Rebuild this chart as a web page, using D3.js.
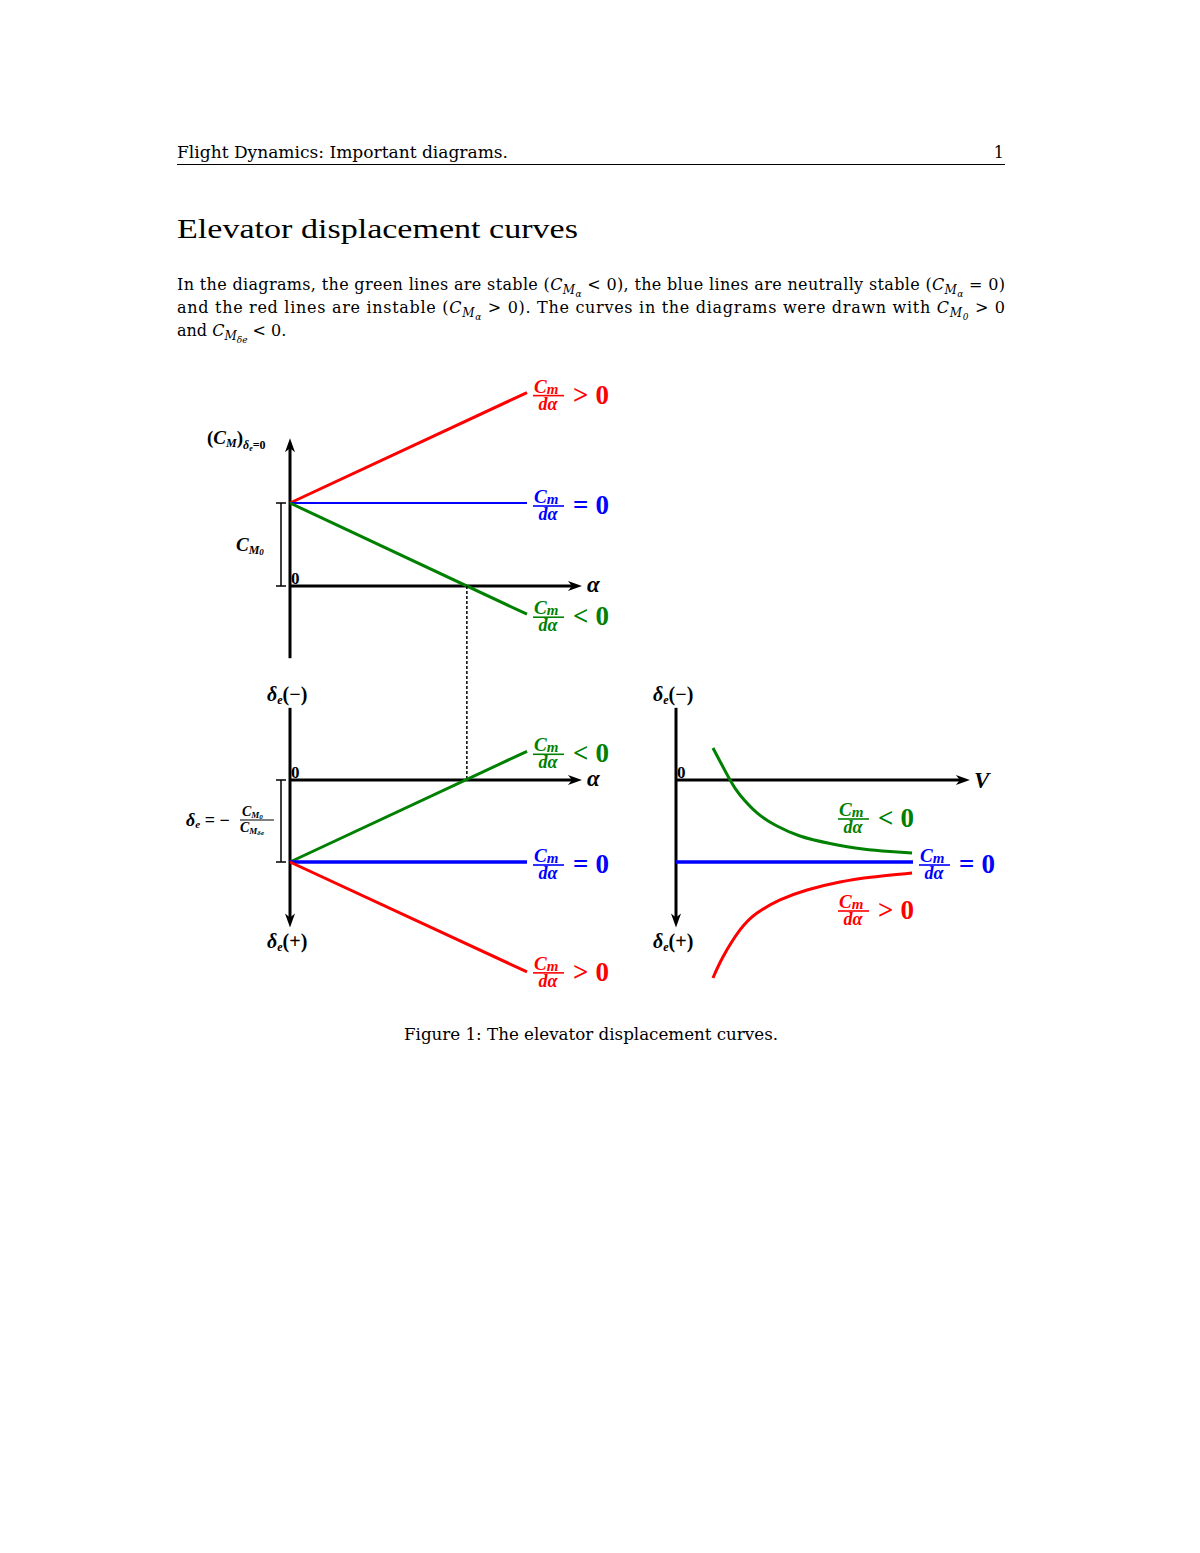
<!DOCTYPE html>
<html>
<head>
<meta charset="utf-8">
<script src="https://cdnjs.cloudflare.com/ajax/libs/d3/7.8.5/d3.min.js"></script>
<style>
  body { margin: 0; background: #fff; }
  svg text { font-family: "DejaVu Serif", serif; }
  .m { font-family: "Liberation Serif", serif; font-weight: bold; font-style: italic; }
  .mr { font-family: "Liberation Serif", serif; font-weight: bold; }
</style>
</head>
<body>
<script>
// ---- data ----
var alpha = [0, 1];
var cmStable = [1, -0.34], cmNeutral = [1, 1], cmUnstable = [1, 2.33];
var deStable = [1, -0.35], deNeutral = [1, 1], deUnstable = [1, 2.34];

var vNeutral = [0, 1], deVNeutral = [1, 1];
var vStable = [0.156, 0.228, 0.27, 0.342, 0.426, 0.523, 0.65, 0.789, 0.903, 0.996];
var deVStable = [-0.39, 0, 0.183, 0.402, 0.561, 0.683, 0.774, 0.841, 0.872, 0.89];
var vUnstable = [0.156, 0.198, 0.27, 0.342, 0.439, 0.553, 0.692, 0.831, 0.996];
var deVUnstable = [2.415, 2.159, 1.829, 1.622, 1.463, 1.341, 1.244, 1.183, 1.134];

var RED = "#ff0000", BLUE = "#0000ff", GREEN = "#008000";

var width = 1200, height = 1553;
var svg = d3.select("body").append("svg")
  .attr("width", width)
  .attr("height", height);

// ---- page text ----
svg.append("text").attr("x", 177).attr("y", 158)
  .attr("font-size", 16).attr("textLength", 331).attr("lengthAdjust", "spacingAndGlyphs")
  .text("Flight Dynamics: Important diagrams.");
svg.append("text").attr("x", 1004).attr("y", 158).attr("text-anchor", "end")
  .attr("font-size", 16).text("1");
svg.append("line").attr("x1", 177).attr("x2", 1005).attr("y1", 164.5).attr("y2", 164.5)
  .attr("stroke", "#000").attr("stroke-width", 1.2);

svg.append("text").attr("x", 177).attr("y", 238)
  .style("font-family", '"Liberation Serif", serif')
  .attr("font-size", 27).attr("textLength", 401).attr("lengthAdjust", "spacingAndGlyphs")
  .text("Elevator displacement curves");

// rich text line: parts of [text, kind]; r=roman, i=italic, s=subscript, ss=subsub
function rich(x, y, parts, len) {
  var shift = { r: 0, i: 0, s: 4, ss: 7 }, size = { r: 16, i: 16, s: 12, ss: 9 };
  var t = svg.append("text").attr("x", x).attr("y", y);
  if (len) t.attr("textLength", len).attr("lengthAdjust", "spacing");
  var cur = 0;
  parts.forEach(function(p) {
    var k = p[1];
    t.append("tspan")
      .attr("dy", shift[k] - cur)
      .attr("font-size", size[k])
      .style("font-style", k == "r" ? "normal" : "italic")
      .text(p[0]);
    cur = shift[k];
  });
  return t;
}

rich(177, 290, [
  ["In the diagrams, the green lines are stable (", "r"], ["C", "i"], ["M", "s"], ["α", "ss"],
  [" < 0), the blue lines are neutrally stable (", "r"], ["C", "i"], ["M", "s"], ["α", "ss"],
  [" = 0)", "r"]
], 828);
rich(177, 313, [
  ["and the red lines are instable (", "r"], ["C", "i"], ["M", "s"], ["α", "ss"],
  [" > 0). The curves in the diagrams were drawn with ", "r"], ["C", "i"], ["M", "s"], ["0", "ss"],
  [" > 0", "r"]
], 828);
rich(177, 336, [
  ["and ", "r"], ["C", "i"], ["M", "s"], ["δe", "ss"], [" < 0.", "r"]
]);

svg.append("text").attr("x", 404).attr("y", 1040)
  .attr("font-size", 16).attr("textLength", 374).attr("lengthAdjust", "spacingAndGlyphs")
  .text("Figure 1: The elevator displacement curves.");

// ---- scales ----
var xA = d3.scaleLinear().domain([0, 1]).range([290, 527]);
var yCM = d3.scaleLinear().domain([0, 1]).range([586, 503]);
var yDe = d3.scaleLinear().domain([0, 1]).range([780, 862]);
var xV = d3.scaleLinear().domain([0, 1]).range([676, 913]);

// ---- helpers ----
function arrow(g, x, y, angle) {
  g.append("path")
    .attr("d", "M0,0L-14,-5L-10,0L-14,5Z")
    .attr("transform", `translate(${x},${y}) rotate(${angle})`)
    .attr("fill", "#000");
}

function axisLine(g, x1, y1, x2, y2) {
  g.append("line").attr("x1", x1).attr("y1", y1).attr("x2", x2).attr("y2", y2)
    .attr("stroke", "#000").attr("stroke-width", 3);
}

function series(g, xs, ys, xScale, yScale, color, w, curve) {
  var line = d3.line()
    .x(d => xScale(d[0]))
    .y(d => yScale(d[1]))
    .curve(curve || d3.curveLinear);
  g.append("path")
    .datum(d3.zip(xs, ys))
    .attr("d", line)
    .attr("fill", "none")
    .attr("stroke", color)
    .attr("stroke-width", w);
}

// Cm/dα  (rel) 0
function fracLabel(g, x, cy, rel, color) {
  var t = g.append("g").attr("transform", `translate(${x},${cy})`).attr("fill", color);
  var num = t.append("text").attr("class", "m").attr("x", 1).attr("y", -3).attr("font-size", 19);
  num.append("tspan").text("C");
  num.append("tspan").attr("font-size", 15).attr("dy", 1).text("m");
  t.append("line").attr("x1", 0).attr("x2", 31).attr("y1", 0).attr("y2", 0)
    .attr("stroke", color).attr("stroke-width", 1.6);
  t.append("text").attr("class", "m").attr("x", 15).attr("y", 14).attr("text-anchor", "middle")
    .attr("font-size", 18).text("dα");
  t.append("text").attr("class", "mr").attr("x", 40).attr("y", 8).attr("font-size", 27)
    .attr("textLength", 36).attr("lengthAdjust", "spacing")
    .text(rel + " 0");
}

function bracket(g, x, y1, y2) {
  g.append("path")
    .attr("d", `M${x - 5},${y1}H${x + 5}M${x},${y1}V${y2}M${x - 5},${y2}H${x + 5}`)
    .attr("fill", "none").attr("stroke", "#000").attr("stroke-width", 1.5);
}

function deltaLabel(g, x, y, sign) {
  var t = g.append("text").attr("class", "m").attr("x", x).attr("y", y).attr("font-size", 20);
  t.append("tspan").text("δ");
  t.append("tspan").attr("font-size", 12).attr("dy", 3).text("e");
  t.append("tspan").attr("class", "mr").style("font-style", "normal").attr("dy", -3).text("(" + sign + ")");
}

// ---- top-left: (CM) vs alpha ----
var g1 = svg.append("g");
axisLine(g1, xA(0), yCM(-0.87), xA(0), yCM(1.72));
arrow(g1, xA(0), yCM(1.78), -90);
axisLine(g1, xA(0), yCM(0), xA(1.2), yCM(0));
arrow(g1, xA(1.232), yCM(0), 0);

series(g1, alpha, cmUnstable, xA, yCM, RED, 3);
series(g1, alpha, cmNeutral, xA, yCM, BLUE, 2);
series(g1, alpha, cmStable, xA, yCM, GREEN, 3);

bracket(g1, 281, yCM(1), yCM(0));
var cm0 = g1.append("text").attr("class", "m").attr("x", 236).attr("y", 551).attr("font-size", 19);
cm0.append("tspan").text("C");
cm0.append("tspan").attr("font-size", 12).attr("dy", 3).text("M");
cm0.append("tspan").attr("font-size", 9).attr("dy", 1).text("0");

g1.append("text").attr("class", "mr").attr("x", 291).attr("y", 584).attr("font-size", 17).text("0");
g1.append("text").attr("class", "m").attr("x", 587).attr("y", 592).attr("font-size", 23).text("α");

var cmy = g1.append("text").attr("class", "m").attr("x", 207).attr("y", 444).attr("font-size", 19);
cmy.append("tspan").style("font-style", "normal").text("(");
cmy.append("tspan").text("C");
cmy.append("tspan").attr("font-size", 12).attr("dy", 3).text("M");
cmy.append("tspan").style("font-style", "normal").attr("dy", -3).text(")");
cmy.append("tspan").attr("font-size", 12).attr("dy", 5).text("δ");
cmy.append("tspan").attr("font-size", 8).attr("dy", 2).text("e");
cmy.append("tspan").attr("font-size", 12).style("font-style", "normal").attr("dy", -2).text("=0");

fracLabel(g1, 533, yCM(cmUnstable[1]) + 3, ">", RED);
fracLabel(g1, 533, yCM(cmNeutral[1]) + 3, "=", BLUE);
fracLabel(g1, 533, yCM(cmStable[1]) + 3, "<", GREEN);

// trim point of the stable line
var aTrim = cmStable[0] / (cmStable[0] - cmStable[1]) * (alpha[1] - alpha[0]);
svg.append("line")
  .attr("x1", xA(aTrim)).attr("x2", xA(aTrim))
  .attr("y1", yCM(0)).attr("y2", yDe(0))
  .attr("stroke", "#000").attr("stroke-width", 1.5).attr("stroke-dasharray", "3,2");

// ---- bottom-left: delta_e vs alpha ----
var g2 = svg.append("g");
axisLine(g2, xA(0), yDe(-0.88), xA(0), yDe(1.7));
arrow(g2, xA(0), yDe(1.8), 90);
axisLine(g2, xA(0), yDe(0), xA(1.2), yDe(0));
arrow(g2, xA(1.232), yDe(0), 0);

series(g2, alpha, deStable, xA, yDe, GREEN, 3);
series(g2, alpha, deNeutral, xA, yDe, BLUE, 3.5);
series(g2, alpha, deUnstable, xA, yDe, RED, 3);

bracket(g2, 281, yDe(0), yDe(1));
g2.append("text").attr("class", "mr").attr("x", 291).attr("y", 778).attr("font-size", 17).text("0");
g2.append("text").attr("class", "m").attr("x", 587).attr("y", 786).attr("font-size", 23).text("α");
deltaLabel(g2, 267, 701, "−");
deltaLabel(g2, 267, 948, "+");

// δe = −CM0 / CMδe
var dl = g2.append("g");
var dt = dl.append("text").attr("class", "m").attr("x", 186).attr("y", 826).attr("font-size", 18);
dt.append("tspan").text("δ");
dt.append("tspan").attr("font-size", 11).attr("dy", 2).text("e");
dt.append("tspan").attr("class", "mr").style("font-style", "normal").attr("dy", -2).text(" = −");
dl.append("line").attr("x1", 240).attr("x2", 274).attr("y1", 820).attr("y2", 820)
  .attr("stroke", "#000").attr("stroke-width", 1.2);
var dn = dl.append("text").attr("class", "m").attr("x", 242).attr("y", 816).attr("font-size", 14);
dn.append("tspan").text("C");
dn.append("tspan").attr("font-size", 9).attr("dy", 2).text("M");
dn.append("tspan").attr("font-size", 7).attr("dy", 1).text("0");
var dd = dl.append("text").attr("class", "m").attr("x", 240).attr("y", 832).attr("font-size", 14);
dd.append("tspan").text("C");
dd.append("tspan").attr("font-size", 9).attr("dy", 2).text("M");
dd.append("tspan").attr("font-size", 7).attr("dy", 1).text("δe");

fracLabel(g2, 533, yDe(deStable[1]) + 3, "<", GREEN);
fracLabel(g2, 533, yDe(deNeutral[1]) + 3, "=", BLUE);
fracLabel(g2, 533, yDe(deUnstable[1]) + 1, ">", RED);

// ---- right: delta_e vs V ----
var g3 = svg.append("g");
axisLine(g3, xV(0), yDe(-0.88), xV(0), yDe(1.7));
arrow(g3, xV(0), yDe(1.8), 90);
axisLine(g3, xV(0), yDe(0), xV(1.2), yDe(0));
arrow(g3, xV(1.24), yDe(0), 0);

series(g3, vStable, deVStable, xV, yDe, GREEN, 3, d3.curveNatural);
series(g3, vNeutral, deVNeutral, xV, yDe, BLUE, 3.5);
series(g3, vUnstable, deVUnstable, xV, yDe, RED, 3, d3.curveNatural);

g3.append("text").attr("class", "mr").attr("x", 677).attr("y", 778).attr("font-size", 17).text("0");
g3.append("text").attr("class", "m").attr("x", 974).attr("y", 788).attr("font-size", 23).text("V");
deltaLabel(g3, 653, 701, "−");
deltaLabel(g3, 653, 948, "+");

fracLabel(g3, 838, 819, "<", GREEN);
fracLabel(g3, 919, yDe(deVNeutral[1]) + 3, "=", BLUE);
fracLabel(g3, 838, 911, ">", RED);
</script>
</body>
</html>
